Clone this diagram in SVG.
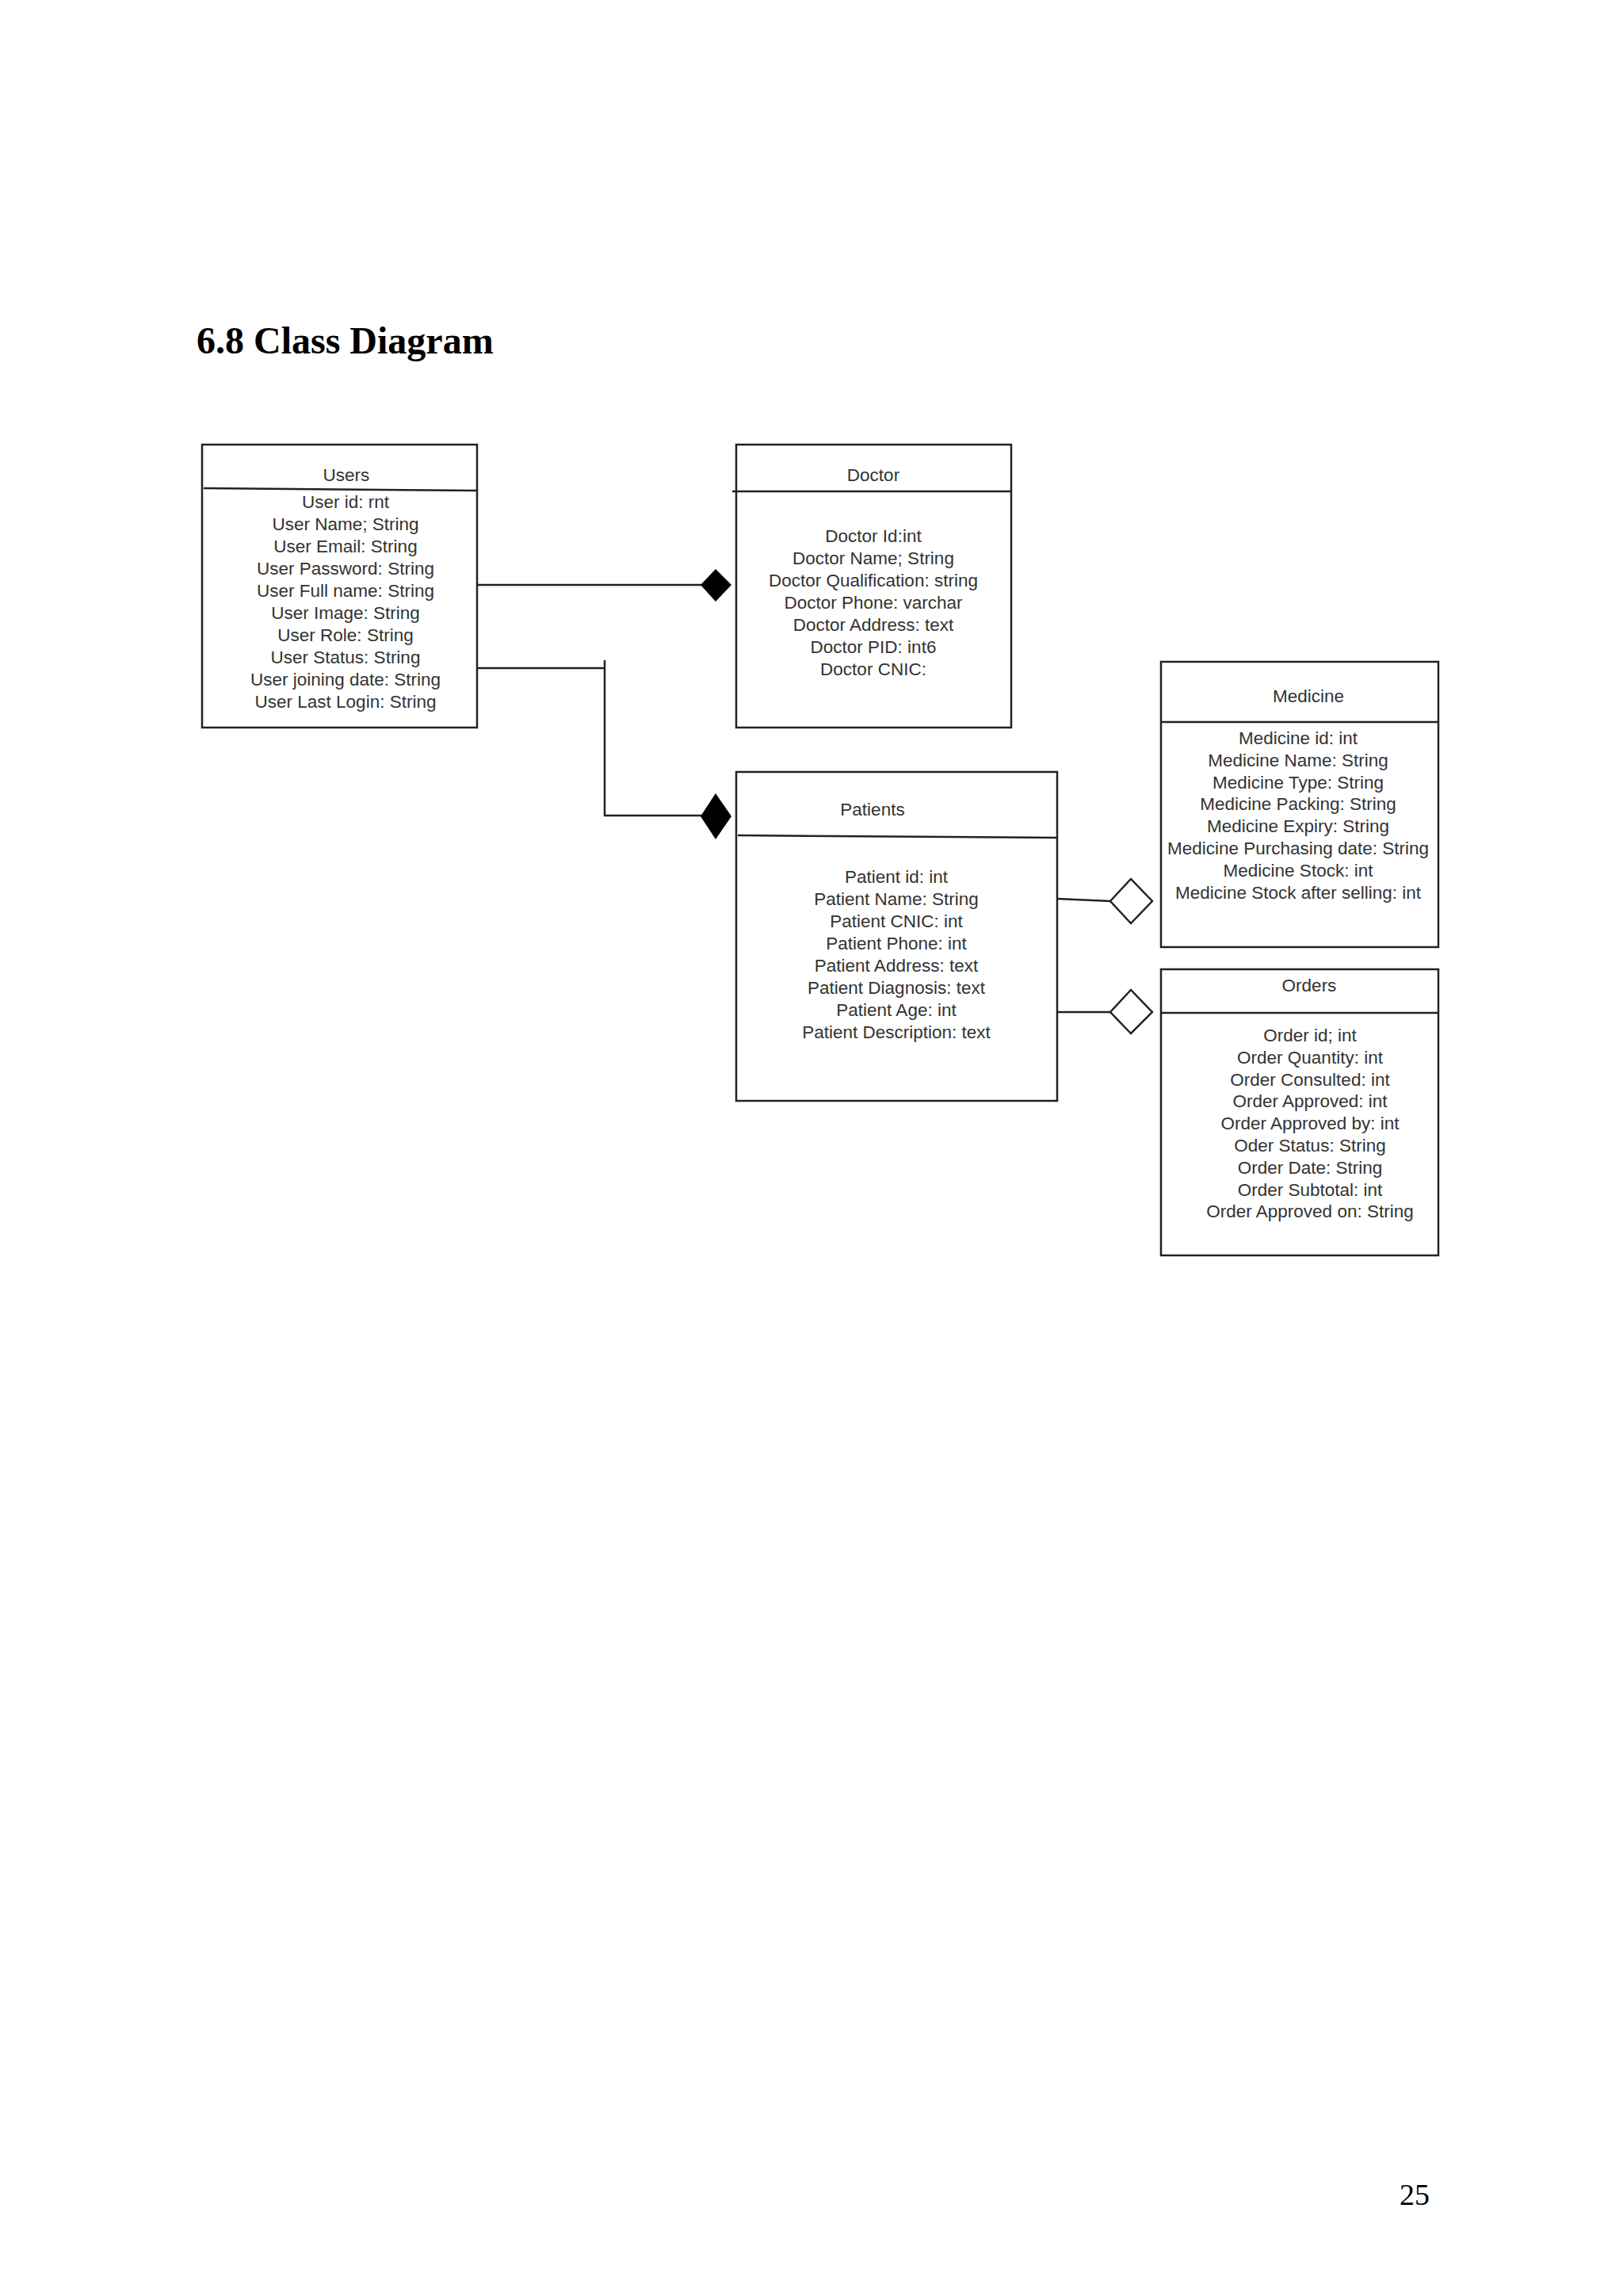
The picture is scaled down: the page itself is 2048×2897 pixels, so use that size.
<svg xmlns="http://www.w3.org/2000/svg" width="2048" height="2897" viewBox="0 0 2048 2897">
<style>
.box{fill:#fff;stroke:#222;stroke-width:2.5}
.ln{stroke:#222;stroke-width:2.5;fill:none}
.t{font-family:"Liberation Sans",Arial,sans-serif;font-size:22.5px;fill:#333;text-anchor:middle}
</style>
<rect width="2048" height="2897" fill="#fff"/>
<text x="248" y="446" font-family="Liberation Serif,serif" font-size="48" font-weight="bold">6.8 Class Diagram</text>
<text x="1766" y="2782" font-family="Liberation Serif,serif" font-size="38">25</text>
<g id="connectors">
<path class="ln" d="M598 738H886"/>
<polygon points="884,738 903,718 923,738 903,759" fill="#000"/>
<path class="ln" d="M598 843H763M763 833V1029H886"/>
<polygon points="884,1030 903,1001 923,1030 903,1059" fill="#000"/>
<path class="ln" d="M1334 1134L1401 1137"/>
<polygon points="1401,1137 1427,1109 1454,1137 1427,1165" fill="#fff" stroke="#222" stroke-width="2.5"/>
<path class="ln" d="M1334 1277H1401"/>
<polygon points="1401,1277 1427,1249 1454,1277 1427,1304" fill="#fff" stroke="#222" stroke-width="2.5"/>
</g>
<g id="users">
<rect class="box" x="255" y="561" width="347" height="357"/>
<path class="ln" d="M257 616L602 619"/>
<text class="t" x="437" y="607">Users</text>
<text class="t" x="436" y="641">User id: rnt<tspan x="436" dy="28">User Name; String</tspan><tspan x="436" dy="28">User Email: String</tspan><tspan x="436" dy="28">User Password: String</tspan><tspan x="436" dy="28">User Full name: String</tspan><tspan x="436" dy="28">User Image: String</tspan><tspan x="436" dy="28">User Role: String</tspan><tspan x="436" dy="28">User Status: String</tspan><tspan x="436" dy="28">User joining date: String</tspan><tspan x="436" dy="28">User Last Login: String</tspan></text>
</g>
<g id="doctor">
<rect class="box" x="929" y="561" width="347" height="357"/>
<path class="ln" d="M924 620H1276"/>
<text class="t" x="1102" y="607">Doctor</text>
<text class="t" x="1102" y="684">Doctor Id:int<tspan x="1102" dy="28">Doctor Name; String</tspan><tspan x="1102" dy="28">Doctor Qualification: string</tspan><tspan x="1102" dy="28">Doctor Phone: varchar</tspan><tspan x="1102" dy="28">Doctor Address: text</tspan><tspan x="1102" dy="28">Doctor PID: int6</tspan><tspan x="1102" dy="28">Doctor CNIC:</tspan></text>
</g>
<g id="patients">
<rect class="box" x="929" y="974" width="405" height="415"/>
<path class="ln" d="M931 1054L1334 1057"/>
<text class="t" x="1101" y="1029">Patients</text>
<text class="t" x="1131" y="1114">Patient id: int<tspan x="1131" dy="28">Patient Name: String</tspan><tspan x="1131" dy="28">Patient CNIC: int</tspan><tspan x="1131" dy="28">Patient Phone: int</tspan><tspan x="1131" dy="28">Patient Address: text</tspan><tspan x="1131" dy="28">Patient Diagnosis: text</tspan><tspan x="1131" dy="28">Patient Age: int</tspan><tspan x="1131" dy="28">Patient Description: text</tspan></text>
</g>
<g id="medicine">
<rect class="box" x="1465" y="835" width="350" height="360"/>
<path class="ln" d="M1465 911H1815"/>
<text class="t" x="1651" y="886">Medicine</text>
<text class="t" x="1638" y="939">Medicine id: int<tspan x="1638" dy="27.8">Medicine Name: String</tspan><tspan x="1638" dy="27.8">Medicine Type: String</tspan><tspan x="1638" dy="27.8">Medicine Packing: String</tspan><tspan x="1638" dy="27.8">Medicine Expiry: String</tspan><tspan x="1638" dy="27.8">Medicine Purchasing date: String</tspan><tspan x="1638" dy="27.8">Medicine Stock: int</tspan><tspan x="1638" dy="27.8">Medicine Stock after selling: int</tspan></text>
</g>
<g id="orders">
<rect class="box" x="1465" y="1223" width="350" height="361"/>
<path class="ln" d="M1465 1278H1815"/>
<text class="t" x="1652" y="1251">Orders</text>
<text class="t" x="1653" y="1314">Order id; int<tspan x="1653" dy="27.8">Order Quantity: int</tspan><tspan x="1653" dy="27.8">Order Consulted: int</tspan><tspan x="1653" dy="27.8">Order Approved: int</tspan><tspan x="1653" dy="27.8">Order Approved by: int</tspan><tspan x="1653" dy="27.8">Oder Status: String</tspan><tspan x="1653" dy="27.8">Order Date: String</tspan><tspan x="1653" dy="27.8">Order Subtotal: int</tspan><tspan x="1653" dy="27.8">Order Approved on: String</tspan></text>
</g>
</svg>
